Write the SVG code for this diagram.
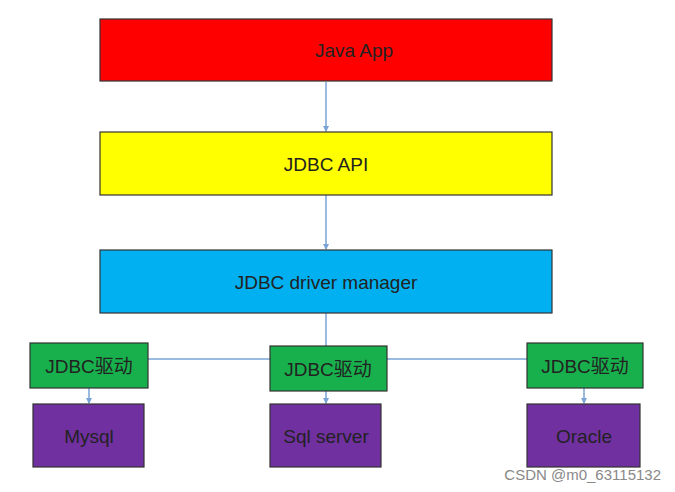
<svg xmlns="http://www.w3.org/2000/svg" width="675" height="492" viewBox="0 0 675 492">
<style>
.b{stroke:#333;stroke-width:1.2}
.t{font-family:"Liberation Sans","Noto Sans CJK SC",sans-serif;font-size:19px;text-anchor:middle;dominant-baseline:central;fill:#222}
.c{stroke:#7aa3d6;stroke-width:1.5;fill:none}
</style>
<defs><marker id="a" markerWidth="6" markerHeight="6" refX="5" refY="3" orient="auto" markerUnits="userSpaceOnUse"><path d="M0,0L6,3L0,6z" fill="#7aa3d6"/></marker></defs>
<rect width="675" height="492" fill="#fff"/>
<g id="connectors">
<line class="c" x1="326" y1="82" x2="326" y2="131" marker-end="url(#a)"/>
<line class="c" x1="326" y1="195" x2="326" y2="249" marker-end="url(#a)"/>
<line class="c" x1="326" y1="313" x2="326" y2="346"/>
<line class="c" x1="148" y1="359" x2="270" y2="359"/>
<line class="c" x1="387" y1="359" x2="527" y2="359"/>
<line class="c" x1="89" y1="388" x2="89" y2="403" marker-end="url(#a)"/>
<line class="c" x1="326" y1="391" x2="326" y2="403" marker-end="url(#a)"/>
<line class="c" x1="584" y1="388" x2="584" y2="403" marker-end="url(#a)"/>
</g>
<g id="javaapp"><rect class="b" x="100" y="19" width="452" height="62" fill="#fe0000"/><text class="t" x="354" y="50">Java App</text></g>
<g id="jdbcapi"><rect class="b" x="100" y="132" width="452" height="63" fill="#ffff00"/><text class="t" x="326" y="164">JDBC API</text></g>
<g id="manager"><rect class="b" x="100" y="250" width="452" height="63" fill="#00b0f0"/><text class="t" x="326" y="282">JDBC driver manager</text></g>
<g id="drv1"><rect class="b" x="30" y="343" width="118" height="45" fill="#18b04c"/><text class="t" x="89" y="366">JDBC驱动</text></g>
<g id="drv2"><rect class="b" x="270" y="346" width="117" height="45" fill="#18b04c"/><text class="t" x="328" y="369">JDBC驱动</text></g>
<g id="drv3"><rect class="b" x="527" y="343" width="116" height="45" fill="#18b04c"/><text class="t" x="585" y="366">JDBC驱动</text></g>
<g id="mysql"><rect class="b" x="33" y="404" width="111" height="63" fill="#7030a0"/><text class="t" x="89" y="436">Mysql</text></g>
<g id="sqlserver"><rect class="b" x="270" y="404" width="111" height="63" fill="#7030a0"/><text class="t" x="326" y="436">Sql server</text></g>
<g id="oracle"><rect class="b" x="527" y="404" width="113" height="63" fill="#7030a0"/><text class="t" x="584" y="436">Oracle</text></g>
<text x="661" y="474" font-family="Liberation Sans,sans-serif" font-size="15" text-anchor="end" fill="#888" dominant-baseline="central">CSDN @m0_63115132</text>
</svg>
